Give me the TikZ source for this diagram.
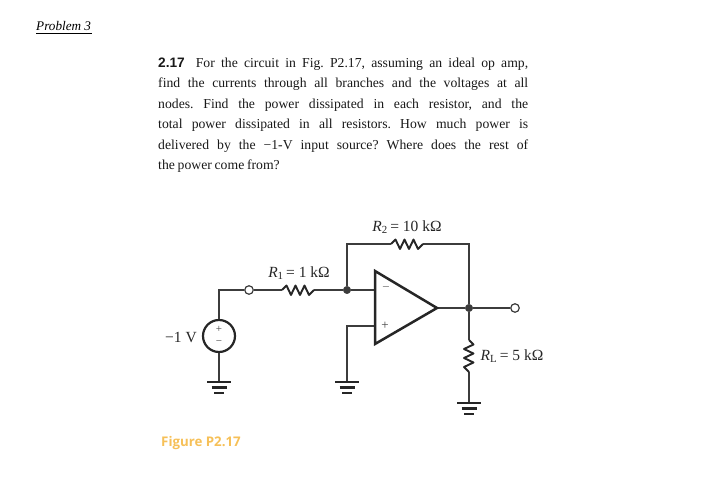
\documentclass[tikz,border=0pt]{standalone}
\usepackage{fontspec}
\setmainfont[WordSpace=0.8]{Liberation Serif}
\newfontfamily\labelfont{Liberation Serif}
\newfontfamily\figfont{Open Sans}
\newfontfamily\numfont{Liberation Sans}
\definecolor{figorange}{RGB}{246,192,88}
\definecolor{wirecol}{RGB}{60,60,60}
\def\fullline#1{\makebox[370pt][s]{#1}}
\frenchspacing
\tikzset{
	wire/.style={line width=1.15pt, color=wirecol},
	dot/.style={circle, fill=wirecol, draw=wirecol, inner sep=0pt, minimum size=7.5pt},
	port/.style={circle, fill=white, draw=wirecol, line width=1.2pt, inner sep=0pt, minimum size=8.5pt},
	label/.style={inner sep=0pt, font=\fontsize{15.5}{17}\labelfont\selectfont, color=black!85},
	textline/.style={inner sep=0pt, anchor=base west, font=\fontsize{13.7}{16}\selectfont, color=black!90},
	signmark/.style={inner sep=0pt, color=black!75, font=\fontsize{13}{13}\labelfont\selectfont},
	resistor/.pic={\draw[line width=1.9pt, color=black!85, line join=round] (0,0) -- (4.5,-4.5) -- (9,5) -- (13.5,-4.5) -- (18,5) -- (22.5,-4.5) -- (27,5) -- (32,0);},
	ground/.pic={
		\draw[line width=2.2pt, color=black!85] (-12,0) -- (12,0);
		\draw[line width=2.2pt, color=black!85] (-7.5,5.5) -- (7.5,5.5);
		\draw[line width=2.4pt, color=black!85] (-5,11) -- (5,11);
	}
}
\begin{document}
\begin{tikzpicture}[x=1pt, y=-1pt]
		%%%%% HEADER AND TEXT %%%%%
		\useasboundingbox (0, 0) rectangle (703, 481);
		
		\node[inner sep=0pt, anchor=base west, color=black, font=\fontsize{13.2}{15}\labelfont\itshape] (problem) at (36, 31) {Problem 3};
		\draw[line width=0.9pt] (36, 33.5) -- (92, 33.5);
		
		\node[textline] (line1) at (158, 67.5) {\fullline{{\numfont\bfseries 2.17}\hspace{0.35em} For the circuit in Fig. P2.17, assuming an ideal op amp,}};
		\node[textline] (line2) at (158, 88) {\fullline{find the currents through all branches and the voltages at all}};
		\node[textline] (line3) at (158, 108.5) {\fullline{nodes. Find the power dissipated in each resistor, and the}};
		\node[textline] (line4) at (158, 129) {\fullline{total power dissipated in all resistors. How much power is}};
		\node[textline] (line5) at (158, 149.5) {\fullline{delivered by the −1-V input source? Where does the rest of}};
		\node[textline] (line6) at (158, 170) {the power come from?};
		
		%%%%% CIRCUIT %%%%%
		\node[circle, draw=black!85, line width=2.2pt, minimum size=32pt, inner sep=0pt] (source) at (219, 336) {};
		\node[signmark, font=\fontsize{11}{11}\labelfont] (srcplus) at (219, 329) {+};
		\node[signmark, font=\fontsize{11}{11}\labelfont] (srcminus) at (219, 343) {−};
		\node[label, anchor=east] (srclabel) at (197, 337) {−1 V};
		
		\coordinate (corner) at (219, 290);
		\node[port] (input) at (249, 290) {};
		\coordinate (r1in) at (282, 290);
		\coordinate (r1out) at (314, 290);
		\node[dot] (inverting) at (347, 290) {};
		\coordinate (r2in) at (391, 244);
		\coordinate (r2out) at (423, 244);
		\coordinate (fbleft) at (347, 244);
		\coordinate (fbright) at (469, 244);
		\node[dot] (outnode) at (469, 308) {};
		\node[port] (output) at (515, 308) {};
		\coordinate (rlin) at (469, 340);
		\coordinate (rlout) at (469, 372);
		\coordinate (tip) at (437, 308);
		\coordinate (minusin) at (375, 290);
		\coordinate (plusin) at (375, 326);
		\coordinate (pluscorner) at (347, 326);
		\coordinate (gnda) at (219, 382);
		\coordinate (gndb) at (347, 382);
		\coordinate (gndc) at (469, 403);
		
		\draw[wire] (source) -- (corner) -- (input);
		\draw[wire] (input) -- (r1in);
		\draw[wire] (r1out) -- (inverting);
		\draw[wire] (inverting) -- (minusin);
		\draw[wire] (inverting) -- (fbleft) -- (r2in);
		\draw[wire] (r2out) -- (fbright) -- (outnode);
		\draw[wire] (tip) -- (outnode);
		\draw[wire] (outnode) -- (output);
		\draw[wire] (outnode) -- (rlin);
		\draw[wire] (rlout) -- (gndc);
		\draw[wire] (plusin) -- (pluscorner) -- (gndb);
		\draw[wire] (source) -- (gnda);
		
		\pic at (r1in) {resistor};
		\pic at (r2in) {resistor};
		\pic[rotate=-90] at (rlin) {resistor};
		\pic at (gnda) {ground};
		\pic at (gndb) {ground};
		\pic at (gndc) {ground};
		
		\draw[line width=2.5pt, color=black!85, fill=white, line join=miter] (375, 271) -- (tip) -- (375, 344) -- cycle;
		\node[signmark, color=black!60] (minussign) at (386, 289.5) {−};
		\node[signmark] (plussign) at (385, 326) {+};
		
		\node[label] (r1label) at (299, 273) {\textit{R}\textsubscript{1}\,= 1 kΩ};
		\node[label] (r2label) at (407, 227) {\textit{R}\textsubscript{2}\,= 10 kΩ};
		\node[label] (rllabel) at (512, 356) {\textit{R}\textsubscript{L}\,= 5 kΩ};
		
		\node[inner sep=0pt, anchor=base west, color=figorange, font=\fontsize{13.3}{15}\figfont\bfseries] (caption) at (161, 446) {Figure P2.17};
		
		%%%%% END %%%%%
\end{tikzpicture}
\end{document}
